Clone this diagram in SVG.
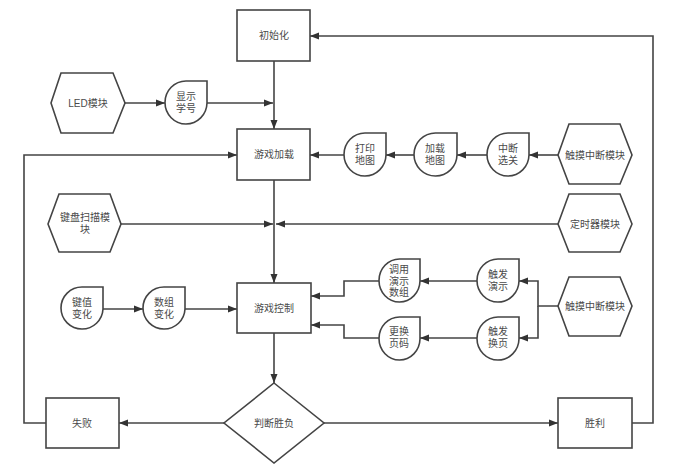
<svg xmlns="http://www.w3.org/2000/svg" width="674" height="464" viewBox="0 0 674 464">
<defs>
<marker id="ah" markerWidth="10" markerHeight="8" refX="9" refY="4" orient="auto" markerUnits="userSpaceOnUse">
<path d="M0,0.5 L9,4 L0,7.5 Z" fill="#333"/>
</marker>
<style>
.s{fill:#fff;stroke:#444;stroke-width:1.6}
.c{fill:none;stroke:#444;stroke-width:1.6}
.a{marker-end:url(#ah)}
text{font-family:"Liberation Sans","Noto Sans CJK SC",sans-serif;font-size:10px;fill:#4a4a4a;text-anchor:middle}
</style>
</defs>
<rect width="674" height="464" fill="#fff"/>
<g id="connectors">
<path class="c a" d="M274,61 V129"/>
<path class="c a" d="M125,103 H165"/>
<path class="c a" d="M207,103 H273"/>
<path class="c a" d="M558,155 H529"/>
<path class="c a" d="M487,155 H457"/>
<path class="c a" d="M414,155 H386"/>
<path class="c a" d="M344,155 H310"/>
<path class="c a" d="M274,180 V283"/>
<path class="c a" d="M121,224 H273"/>
<path class="c a" d="M558,224 H276"/>
<path class="c a" d="M103,309 H143"/>
<path class="c a" d="M185,309 H237"/>
<path class="c a" d="M274,333 V383"/>
<path class="c a" d="M558,306 H538 V281 H519"/>
<path class="c a" d="M538,306 V338 H519"/>
<path class="c a" d="M477,281 H420"/>
<path class="c a" d="M477,338 H420"/>
<path class="c a" d="M379,281 H344 V296 H311"/>
<path class="c a" d="M379,338 H344 V325 H311"/>
<path class="c a" d="M224,423 H119"/>
<path class="c a" d="M46,423 H24 V155 H237"/>
<path class="c a" d="M324,423 H558"/>
<path class="c a" d="M632,423 H653 V36 H310"/>
</g>
<g id="init"><rect class="s" x="237" y="10" width="73" height="51"/><text x="274" y="39">初始化</text></g>
<g id="led"><path class="s" d="M51,103 L61,73 H113 L125,103 L113,133 H61 Z"/><text x="88" y="107">LED模块</text></g>
<g id="showid"><path class="s" d="M186,81 H207 V103 A21,21.5 0 0 1 186,124 A21,21.5 0 0 1 165,102.5 A21,21.5 0 0 1 186,81 Z"/><text x="186" y="100">显示<tspan x="186" dy="12">学号</tspan></text></g>
<g id="load"><rect class="s" x="237" y="129" width="73" height="51"/><text x="274" y="158">游戏加载</text></g>
<g id="printmap"><path class="s" d="M365,133 H386 V155 A21,21.5 0 0 1 365,176 A21,21.5 0 0 1 344,154.5 A21,21.5 0 0 1 365,133 Z"/><text x="365" y="152">打印<tspan x="365" dy="12">地图</tspan></text></g>
<g id="loadmap"><path class="s" d="M435.5,133 H457 V155 A21.5,21.5 0 0 1 435.5,176 A21.5,21.5 0 0 1 414,154.5 A21.5,21.5 0 0 1 435.5,133 Z"/><text x="435" y="152">加载<tspan x="435" dy="12">地图</tspan></text></g>
<g id="sellevel"><path class="s" d="M508,133 H529 V155 A21,21.5 0 0 1 508,176 A21,21.5 0 0 1 487,154.5 A21,21.5 0 0 1 508,133 Z"/><text x="508" y="152">中断<tspan x="508" dy="12">选关</tspan></text></g>
<g id="touch1"><path class="s" d="M558,155 L569,124 H620 L632,155 L620,184 H569 Z"/><text x="595" y="159">触摸中断模块</text></g>
<g id="keyscan"><path class="s" d="M48,224 L59,194 H110 L121,224 L110,252 H59 Z"/><text x="85" y="221">键盘扫描模<tspan x="85" dy="12">块</tspan></text></g>
<g id="timer"><path class="s" d="M558,224 L569,194 H620 L632,224 L620,252 H569 Z"/><text x="595" y="228">定时器模块</text></g>
<g id="keyval"><path class="s" d="M82,287 H103 V309 A21,21 0 0 1 82,329 A21,21 0 0 1 61,308 A21,21 0 0 1 82,287 Z"/><text x="82" y="306">键值<tspan x="82" dy="12">变化</tspan></text></g>
<g id="arrchg"><path class="s" d="M164,287 H185 V309 A21,21 0 0 1 164,329 A21,21 0 0 1 143,308 A21,21 0 0 1 164,287 Z"/><text x="164" y="306">数组<tspan x="164" dy="12">变化</tspan></text></g>
<g id="control"><rect class="s" x="237" y="283" width="74" height="50"/><text x="274" y="312">游戏控制</text></g>
<g id="calldemo"><path class="s" d="M399.5,259 H420 V281 A20.5,21.5 0 0 1 399.5,302 A20.5,21.5 0 0 1 379,280.5 A20.5,21.5 0 0 1 399.5,259 Z"/><text x="399" y="273">调用<tspan x="399" dy="11.5">演示</tspan><tspan x="399" dy="11.5">数组</tspan></text></g>
<g id="trigdemo"><path class="s" d="M498,259 H519 V281 A21,21.5 0 0 1 498,302 A21,21.5 0 0 1 477,280.5 A21,21.5 0 0 1 498,259 Z"/><text x="498" y="278">触发<tspan x="498" dy="12">演示</tspan></text></g>
<g id="touch2"><path class="s" d="M558,306 L569,277 H620 L632,306 L620,336 H569 Z"/><text x="595" y="310">触摸中断模块</text></g>
<g id="chgpage"><path class="s" d="M399.5,317 H420 V339 A20.5,21.5 0 0 1 399.5,360 A20.5,21.5 0 0 1 379,338.5 A20.5,21.5 0 0 1 399.5,317 Z"/><text x="399" y="335">更换<tspan x="399" dy="12">页码</tspan></text></g>
<g id="trigpage"><path class="s" d="M498,317 H519 V339 A21,21.5 0 0 1 498,360 A21,21.5 0 0 1 477,338.5 A21,21.5 0 0 1 498,317 Z"/><text x="498" y="335">触发<tspan x="498" dy="12">换页</tspan></text></g>
<g id="judge"><path class="s" d="M274,383 L324,423 L274,463 L224,423 Z"/><text x="274" y="427">判断胜负</text></g>
<g id="fail"><rect class="s" x="46" y="398" width="73" height="50"/><text x="82" y="427">失败</text></g>
<g id="win"><rect class="s" x="558" y="398" width="74" height="50"/><text x="595" y="427">胜利</text></g>
</svg>
